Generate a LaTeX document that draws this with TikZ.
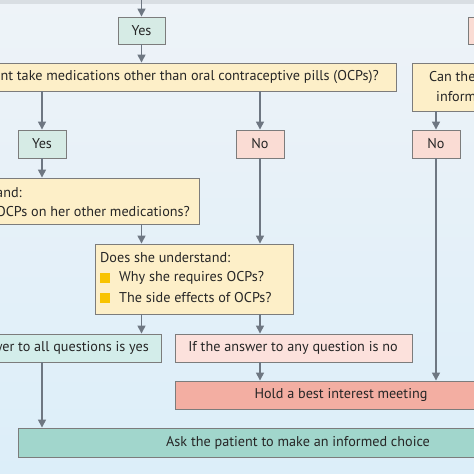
\documentclass[tikz,border=0pt]{standalone}
\usepackage{fontspec}
\setmainfont{PT Sans}
\usetikzlibrary{arrows.meta,shadows}
\definecolor{bgtop}{HTML}{EEF3F8}
\definecolor{bgbot}{HTML}{DCEEF9}
\definecolor{band}{HTML}{D9DEE3}
\definecolor{yesfill}{HTML}{D6EBE5}
\definecolor{qfill}{HTML}{FDEFC8}
\definecolor{nofill}{HTML}{FADCD4}
\definecolor{allyes}{HTML}{D3EDEA}
\definecolor{anyno}{HTML}{FCE1DC}
\definecolor{meet}{HTML}{F3AEA2}
\definecolor{choice}{HTML}{A1D6CC}
\definecolor{bullet}{HTML}{F8C300}
\definecolor{edge}{HTML}{7C7C7C}
\definecolor{arrowc}{HTML}{6E7782}
\tikzset{
  box/.style={draw=edge, line width=0.9pt, inner sep=0pt, drop shadow={shadow xshift=1pt, shadow yshift=-1pt, opacity=0.25}},
  txt/.style={inner sep=0pt, font=\fontsize{14.2}{17}\selectfont, text=black!85},
  conn/.style={draw=arrowc, line width=1.4pt, -{Triangle[width=8pt,length=8pt]}},
  bul/.style={fill=bullet, minimum width=10pt, minimum height=10pt, inner sep=0pt}
}
\begin{document}
\begin{tikzpicture}[x=1pt,y=-1pt]
\useasboundingbox (0,0) rectangle (474,474);
\begin{scope}
\clip (0,0) rectangle (474,474);
\shade[top color=bgtop, bottom color=bgbot] (0,0) rectangle (474,474);
\fill[band] (0,0) rectangle (474,4);
% boxes
\node[box, fill=yesfill, minimum width=47pt, minimum height=27pt] (yes1) at (141.5,30.5) {};
\node[box, fill=nofill, minimum width=52pt, minimum height=27pt] (notop) at (494,30.5) {};
\node[box, fill=qfill, minimum width=437pt, minimum height=28pt] (q1) at (177.5,77) {};
\node[box, fill=qfill, minimum width=108pt, minimum height=48pt] (q2) at (466,87) {};
\node[box, fill=yesfill, minimum width=48pt, minimum height=28pt] (yes2) at (42,144) {};
\node[box, fill=nofill, minimum width=48pt, minimum height=28pt] (no2) at (260,144) {};
\node[box, fill=nofill, minimum width=48pt, minimum height=28pt] (no3) at (436,144) {};
\node[box, fill=qfill, minimum width=239pt, minimum height=46pt] (q3) at (79.5,201) {};
\node[box, fill=qfill, minimum width=198pt, minimum height=70pt] (q4) at (194,279) {};
\node[box, fill=allyes, minimum width=201pt, minimum height=28pt] (r5) at (60.5,348) {};
\node[box, fill=anyno, minimum width=237pt, minimum height=28pt] (r6) at (293.5,348) {};
\node[box, fill=meet, minimum width=345pt, minimum height=28pt] (r8) at (347.5,395) {};
\node[box, fill=choice, minimum width=562pt, minimum height=29pt] (r7) at (299,442.5) {};
% texts
\node[txt] (tyes1) at (yes1) {Yes};
\node[txt, anchor=east] (tq1) at (379,77) {nt take medications other than oral contraceptive pills (OCPs)?};
\node[txt, anchor=west] (tq2a) at (429,77) {Can the};
\node[txt, anchor=west] (tq2b) at (436,97) {inform};
\node[txt] (tyes2) at (yes2) {Yes};
\node[txt] (tno2) at (no2) {No};
\node[txt] (tno3) at (no3) {No};
\node[txt, anchor=east] (tq3a) at (22,193) {and:};
\node[txt, anchor=east] (tq3b) at (190,212) {OCPs on her other medications?};
\node[txt, anchor=west] (tq4a) at (100,258) {Does she understand:};
\node[bul] (b1) at (105,278) {};
\node[bul] (b2) at (105,298) {};
\node[txt, anchor=west] (tq4b) at (119,278) {Why she requires OCPs?};
\node[txt, anchor=west] (tq4c) at (119,298) {The side effects of OCPs?};
\node[txt, anchor=east] (tr5) at (149,348) {wer to all questions is yes};
\node[txt] (tr6) at (293,348) {If the answer to any question is no};
\node[txt] (tr8) at (341,395) {Hold a best interest meeting};
\node[txt] (tr7) at (298,442.5) {Ask the patient to make an informed choice};
% connectors
\coordinate (topin) at (141.5,0);
\draw[conn] (topin) -- (yes1.north);
\draw[conn] (yes1.south) -- (yes1 |- q1.north);
\draw[conn] (yes2 |- q1.south) -- (yes2.north);
\draw[conn] (no2 |- q1.south) -- (no2.north);
\draw[conn] (no3 |- q2.south) -- (no3.north);
\draw[conn] (yes2.south) -- (yes2 |- q3.north);
\draw[conn] (yes1 |- q3.south) -- (yes1 |- q4.north);
\draw[conn] (no2.south) -- (no2 |- q4.north);
\draw[conn] (yes1 |- q4.south) -- (yes1 |- r5.north);
\draw[conn] (no2 |- q4.south) -- (no2 |- r6.north);
\draw[conn] (no2 |- r6.south) -- (no2 |- r8.north);
\draw[conn] (no3.south) -- (no3 |- r8.north);
\draw[conn] (yes2 |- r5.south) -- (yes2 |- r7.north);
\end{scope}
\end{tikzpicture}
\end{document}
